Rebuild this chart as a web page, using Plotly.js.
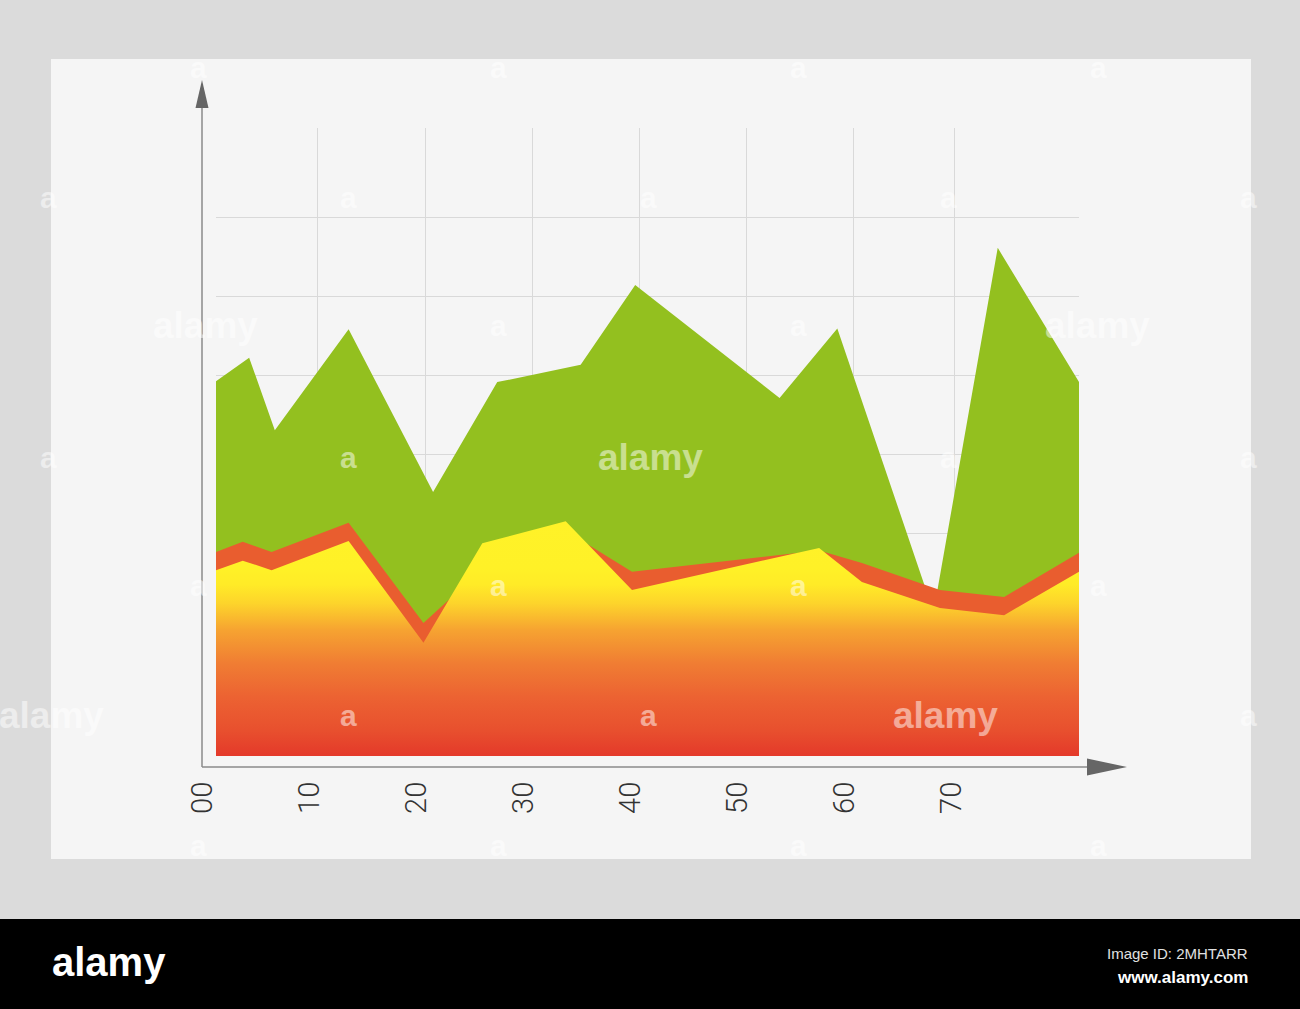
<!DOCTYPE html>
<html>
<head>
<meta charset="utf-8">
<script src="https://cdn.plot.ly/plotly-3.0.1.min.js"></script>
<style>
html, body { margin: 0; padding: 0; background: #dbdbdb; }
#chart { width: 1300px; height: 1009px; }
</style>
</head>
<body>
<div id="chart"></div>
<script>
// values: x in tick-label units, y in grid units
var tickVals = [0, 10, 20, 30, 40, 50, 60, 70];
var tickText = ["00", "10", "20", "30", "40", "50", "60", "70"];

var greenX = [1.2, 4.3, 6.7, 13.6, 21.5, 27.5, 35.3, 40.4, 53.9, 59.3, 68.3, 74.3, 81.9];
var greenY = [49.2, 52.2, 43.0, 55.8, 35.2, 49.1, 51.3, 61.4, 47.1, 55.9, 20.0, 66.1, 49.1];

var lowX = [1.2, 3.7, 6.4, 13.6, 20.6, 26.1, 33.9, 40.1, 57.6, 61.6, 68.9, 74.9, 81.9];
var orangeY = [27.6, 28.9, 27.6, 31.3, 18.6, 25.4, 30.3, 25.1, 27.8, 26.2, 22.8, 21.9, 27.5];
var yellowY = [25.3, 26.5, 25.3, 29.0, 16.1, 28.7, 31.5, 22.8, 28.1, 23.8, 20.5, 19.6, 25.1];

// grid line positions (they sit a little right of the labels in the original)
var gridX = [10.65, 20.75, 30.75, 40.84, 50.84, 60.84, 70.28];
var gridY = [10, 20, 30, 40, 50, 60, 70];

var W = 1300, H = 1009;
function fx(p) { return p / W; }
function fy(p) { return 1 - p / H; }

var traces = [
    { type: "scatter", x: greenX, y: greenY, mode: "lines", fill: "tozeroy",
      line: { width: 0, color: "#93c01f" }, fillcolor: "#93c01f", hoverinfo: "skip" },
    { type: "scatter", x: lowX, y: orangeY, mode: "lines", fill: "tozeroy",
      line: { width: 0, color: "#e95d2f" }, fillcolor: "#e95d2f", hoverinfo: "skip" },
    { type: "scatter", x: lowX, y: yellowY, mode: "lines", fill: "tozeroy",
      line: { width: 0, color: "#fff127" },
      fillgradient: {
          type: "vertical", start: 1.77, stop: 31.5,
          colorscale: [[0, "#e4392a"], [0.11, "#e8502e"], [0.25, "#ec6232"], [0.395, "#f07d33"],
                       [0.536, "#f6a331"], [0.65, "#fdd42b"], [0.73, "#ffeb27"], [0.8, "#fff127"], [1, "#fff228"]]
      },
      hoverinfo: "skip" },
    // invisible holder so the label-only axis gets drawn
    { type: "scatter", x: [0], y: [0], xaxis: "x2", yaxis: "y2", mode: "markers",
      marker: { opacity: 0 }, hoverinfo: "skip" }
];

var wmFamily = "Liberation Sans, Arial, sans-serif";
var wmFont = { family: wmFamily, weight: "bold", color: "rgba(255,255,255,0.5)" };

var annotations = [];
// small "a" watermarks on an offset grid
var rowsA = [68, 325, 585, 845], rowsB = [197, 457, 715];
var colsA = [198, 498, 798, 1098], colsB = [48, 348, 648, 948, 1248];
var big = { "198,325": 205, "1098,325": 1097, "648,457": 650, "48,715": 51, "948,715": 945 };
function addMark(x, y) {
    var key = x + "," + y;
    var isBig = key in big;
    annotations.push({ xref: "paper", yref: "paper", x: fx(isBig ? big[key] : x), y: fy(y), showarrow: false,
        xanchor: "center", yanchor: "middle", text: isBig ? "alamy" : "a",
        font: Object.assign({}, wmFont, { size: isBig ? 37 : 30 }) });
}
rowsA.forEach(function (y) { colsA.forEach(function (x) { addMark(x, y); }); });
rowsB.forEach(function (y) { colsB.forEach(function (x) { addMark(x, y); }); });

// footer strip text
annotations.push({ xref: "paper", yref: "paper", x: fx(50), y: fy(962), showarrow: false,
    xanchor: "left", yanchor: "middle", text: "alamy",
    font: { family: wmFamily, weight: "bold", size: 40, color: "#ffffff" } });
annotations.push({ xref: "paper", yref: "paper", x: fx(1250), y: fy(953), showarrow: false,
    xanchor: "right", yanchor: "middle", text: "Image ID: 2MHTARR",
    font: { family: wmFamily, size: 15, color: "#e0e0e0" } });
annotations.push({ xref: "paper", yref: "paper", x: fx(1250), y: fy(977), showarrow: false,
    xanchor: "right", yanchor: "middle", text: "www.alamy.com",
    font: { family: wmFamily, weight: "bold", size: 17, color: "#ffffff" } });

var axisGrey = "#8a8a8a", arrowGrey = "#666666";
var shapes = [
    { type: "rect", xref: "paper", yref: "paper", x0: fx(51), x1: fx(1251), y0: fy(859), y1: fy(59),
      fillcolor: "#f5f5f5", line: { width: 0 }, layer: "below" },
    { type: "rect", xref: "paper", yref: "paper", x0: 0, x1: 1, y0: 0, y1: fy(919),
      fillcolor: "#000000", line: { width: 0 }, layer: "below" },
    { type: "line", xref: "paper", yref: "paper", x0: fx(202), x1: fx(202), y0: fy(767), y1: fy(106),
      line: { color: axisGrey, width: 1.5 } },
    { type: "line", xref: "paper", yref: "paper", x0: fx(202), x1: fx(1089), y0: fy(767), y1: fy(767),
      line: { color: axisGrey, width: 1.5 } },
    { type: "path", xref: "paper", yref: "paper",
      path: "M " + fx(202) + " " + fy(80) + " L " + fx(195.5) + " " + fy(108) + " L " + fx(208.5) + " " + fy(108) + " Z",
      fillcolor: arrowGrey, line: { width: 0 } },
    { type: "path", xref: "paper", yref: "paper",
      path: "M " + fx(1127) + " " + fy(767) + " L " + fx(1087) + " " + fy(758.5) + " L " + fx(1087) + " " + fy(775.5) + " Z",
      fillcolor: arrowGrey, line: { width: 0 } }
];

var layout = {
    width: W, height: H,
    margin: { l: 0, r: 0, t: 0, b: 0 },
    paper_bgcolor: "#dbdbdb",
    plot_bgcolor: "rgba(0,0,0,0)",
    showlegend: false,
    hovermode: false,
    xaxis: {
        domain: [fx(216), fx(1079)], range: [1.2, 81.9], anchor: "y",
        tickmode: "array", tickvals: gridX, showticklabels: false, ticks: "",
        showgrid: true, gridcolor: "#d9d9d9", gridwidth: 1, zeroline: false, showline: false
    },
    yaxis: {
        domain: [fy(756), fy(128)], range: [1.77, 81.27], anchor: "x",
        tickmode: "array", tickvals: gridY, showticklabels: false, ticks: "",
        showgrid: true, gridcolor: "#d9d9d9", gridwidth: 1, zeroline: false, showline: false
    },
    // separate axis only for the rotated labels, which start at "00" left of the areas
    xaxis2: {
        domain: [fx(203), fx(1079)], range: [0, (1079 - 203) / 10.694], anchor: "y2",
        tickmode: "array", tickvals: tickVals, ticktext: tickText, tickangle: -90,
        ticks: "", ticklabelstandoff: 8,
        tickfont: { family: "Roboto, Liberation Sans, sans-serif", weight: 300, size: 29, color: "#333333" },
        showgrid: false, zeroline: false, showline: false
    },
    yaxis2: {
        domain: [fy(767), fy(766)], range: [0, 1], anchor: "x2",
        showticklabels: false, ticks: "", showgrid: false, zeroline: false, showline: false
    },
    shapes: shapes,
    annotations: annotations
};

Plotly.newPlot("chart", traces, layout, { staticPlot: true, displayModeBar: false });
</script>
</body>
</html>
